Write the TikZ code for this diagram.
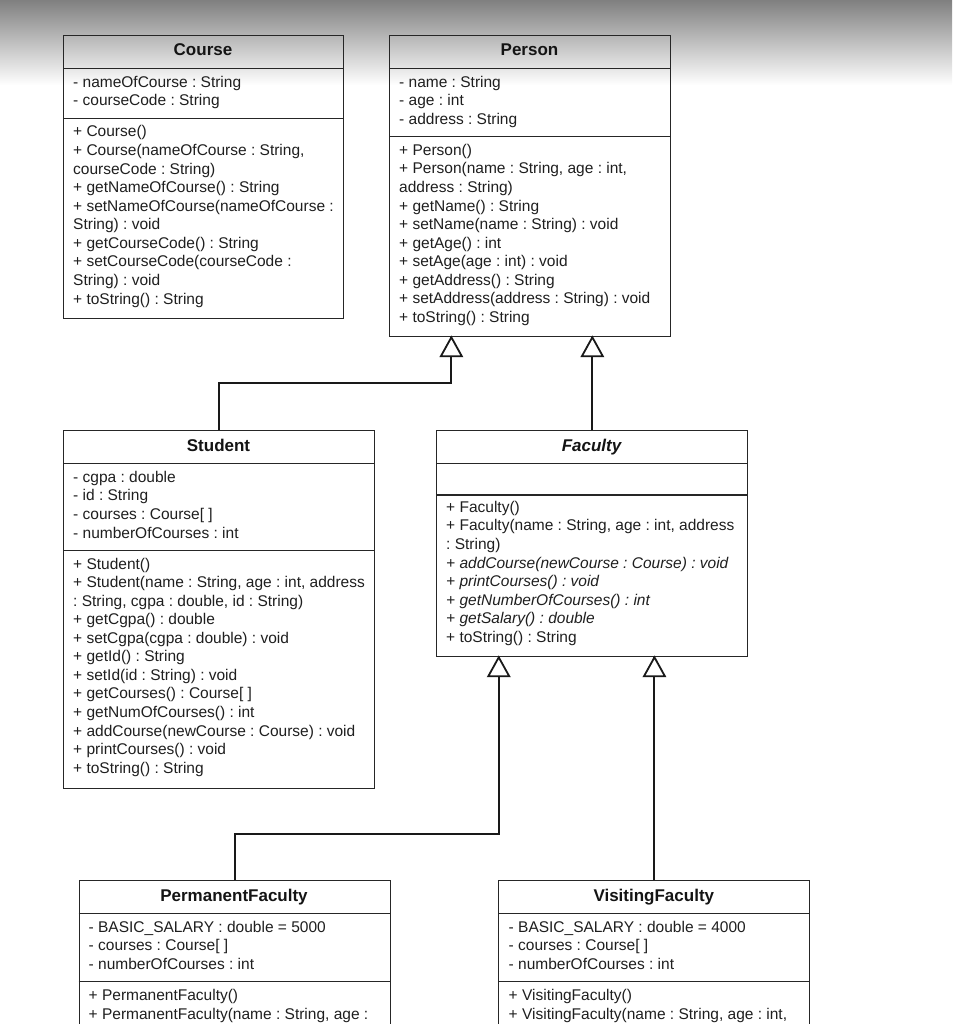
\documentclass[tikz,border=0pt]{standalone}
\usepackage{fontspec}
\setmainfont{Liberation Sans}
\frenchspacing
\tikzset{
  box/.style={draw=black!85, line width=1.3pt, anchor=north west, inner sep=0pt, minimum width=311pt},
  sep/.style={draw=black!85, line width=1.3pt},
  txt/.style={anchor=base west, inner sep=0pt, font=\fontsize{15.5}{18.56}\selectfont, text=black!88},
  head/.style={anchor=base, inner sep=0pt, font=\fontsize{17}{20}\selectfont\bfseries, text=black!92},
  gen/.style={line width=1.8pt, draw=black!90},
  tri/.style={draw=black!90, line width=1.8pt, fill=white, line join=miter}
}
\newcommand\hsep[2]{\draw[sep] ([yshift=-#2pt]#1.north west) -- ([yshift=-#2pt]#1.north east);}
\newcommand\umltext[4]{\foreach \t [count=\i from 0] in {#4} {\node[txt] (#1-\i) at (#2, #3+\i*18.56) {\frenchspacing\t};}}
\begin{document}
\begin{tikzpicture}[x=1pt, y=-1pt]
\useasboundingbox (0,0) rectangle (952,1024);
\fill[white] (0,0) rectangle (952,1024);
\shade[top color=black!50, bottom color=white] (0,0) rectangle (952,85);

% ---------- Course ----------
\node[box, minimum width=280pt, minimum height=282.5pt] (course) at (63,35) {};
\hsep{course}{33.3}
\hsep{course}{83.3}
\node[head] (course-h) at (203,56) {Course};
\umltext{course-a}{73}{87.4}{- nameOfCourse : String, - courseCode : String}
\umltext{course-m}{73}{137}{+ Course(), {+ Course(nameOfCourse : String,}, courseCode : String), + getNameOfCourse() : String, + setNameOfCourse(nameOfCourse :, String) : void, + getCourseCode() : String, + setCourseCode(courseCode :, String) : void, + toString() : String}

% ---------- Person ----------
\node[box, minimum width=281pt, minimum height=301pt] (person) at (389,35) {};
\hsep{person}{33.3}
\hsep{person}{101.7}
\node[head] (person-h) at (529.5,56) {Person};
\umltext{person-a}{399}{87.4}{- name : String, - age : int, - address : String}
\umltext{person-m}{399}{155.4}{+ Person(), {+ Person(name : String, age : int,}, address : String), + getName() : String, + setName(name : String) : void, + getAge() : int, + setAge(age : int) : void, + getAddress() : String, + setAddress(address : String) : void, + toString() : String}

% ---------- Student ----------
\node[box, minimum height=357.5pt] (student) at (63,430) {};
\hsep{student}{33.3}
\hsep{student}{120.3}
\node[head] (student-h) at (218.5,451) {Student};
\umltext{student-a}{73}{482.4}{- cgpa : double, - id : String, - courses : Course[ ], - numberOfCourses : int}
\umltext{student-m}{73}{569}{+ Student(), {+ Student(name : String, age : int, address}, {: String, cgpa : double, id : String)}, + getCgpa() : double, + setCgpa(cgpa : double) : void, + getId() : String, + setId(id : String) : void, + getCourses() : Course[ ], + getNumOfCourses() : int, + addCourse(newCourse : Course) : void, + printCourses() : void, + toString() : String}

% ---------- Faculty ----------
\node[box, minimum height=226pt] (faculty) at (436,430) {};
\hsep{faculty}{33.3}
\hsep{faculty}{65}
\node[head, font=\fontsize{17}{20}\selectfont\bfseries\itshape] (faculty-h) at (591.5,451) {Faculty};
\umltext{faculty-m}{446}{512.4}{+ Faculty(), {+ Faculty(name : String, age : int, address}, : String), {\itshape + addCourse(newCourse : Course) : void}, {\itshape + printCourses() : void}, {\itshape + getNumberOfCourses() : int}, {\itshape + getSalary() : double}, + toString() : String}

% ---------- PermanentFaculty ----------
\node[box, minimum height=170pt] (pf) at (78.5,880) {};
\hsep{pf}{33.3}
\hsep{pf}{101.7}
\node[head] (pf-h) at (234,901) {PermanentFaculty};
\umltext{pf-a}{88.5}{932}{- BASIC\_SALARY : double = 5000, - courses : Course[ ], - numberOfCourses : int}
\umltext{pf-m}{88.5}{1000.7}{+ PermanentFaculty(), {+ PermanentFaculty(name : String, age :}}

% ---------- VisitingFaculty ----------
\node[box, minimum height=170pt] (vf) at (498,880) {};
\hsep{vf}{33.3}
\hsep{vf}{101.7}
\node[head] (vf-h) at (653.8,901) {VisitingFaculty};
\umltext{vf-a}{508.5}{932}{- BASIC\_SALARY : double = 4000, - courses : Course[ ], - numberOfCourses : int}
\umltext{vf-m}{508.5}{1000.7}{+ VisitingFaculty(), {+ VisitingFaculty(name : String, age : int,}}

% ---------- generalisations ----------
\coordinate (t1) at ([xshift=-78.8pt]person.south);
\coordinate (t2) at ([xshift=62.2pt]person.south);
\coordinate (t3) at ([xshift=-93.4pt]faculty.south);
\coordinate (t4) at ([xshift=62.3pt]faculty.south);
\coordinate (j1) at (t1 |- 0,382.7);
\coordinate (j3) at (t3 |- 0,834);
\draw[gen] (student.north) |- (j1) -- (t1);
\draw[gen] (faculty.north) -- (faculty.north |- t2);
\draw[gen] (pf.north) |- (j3) -- (t3);
\draw[gen] (vf.north) -- (vf.north |- t4);
\foreach \p in {t1,t2,t3,t4}
  \draw[tri] (\p) -- ++(-10.5,19) -- ++(21,0) -- cycle;
\end{tikzpicture}
\end{document}
